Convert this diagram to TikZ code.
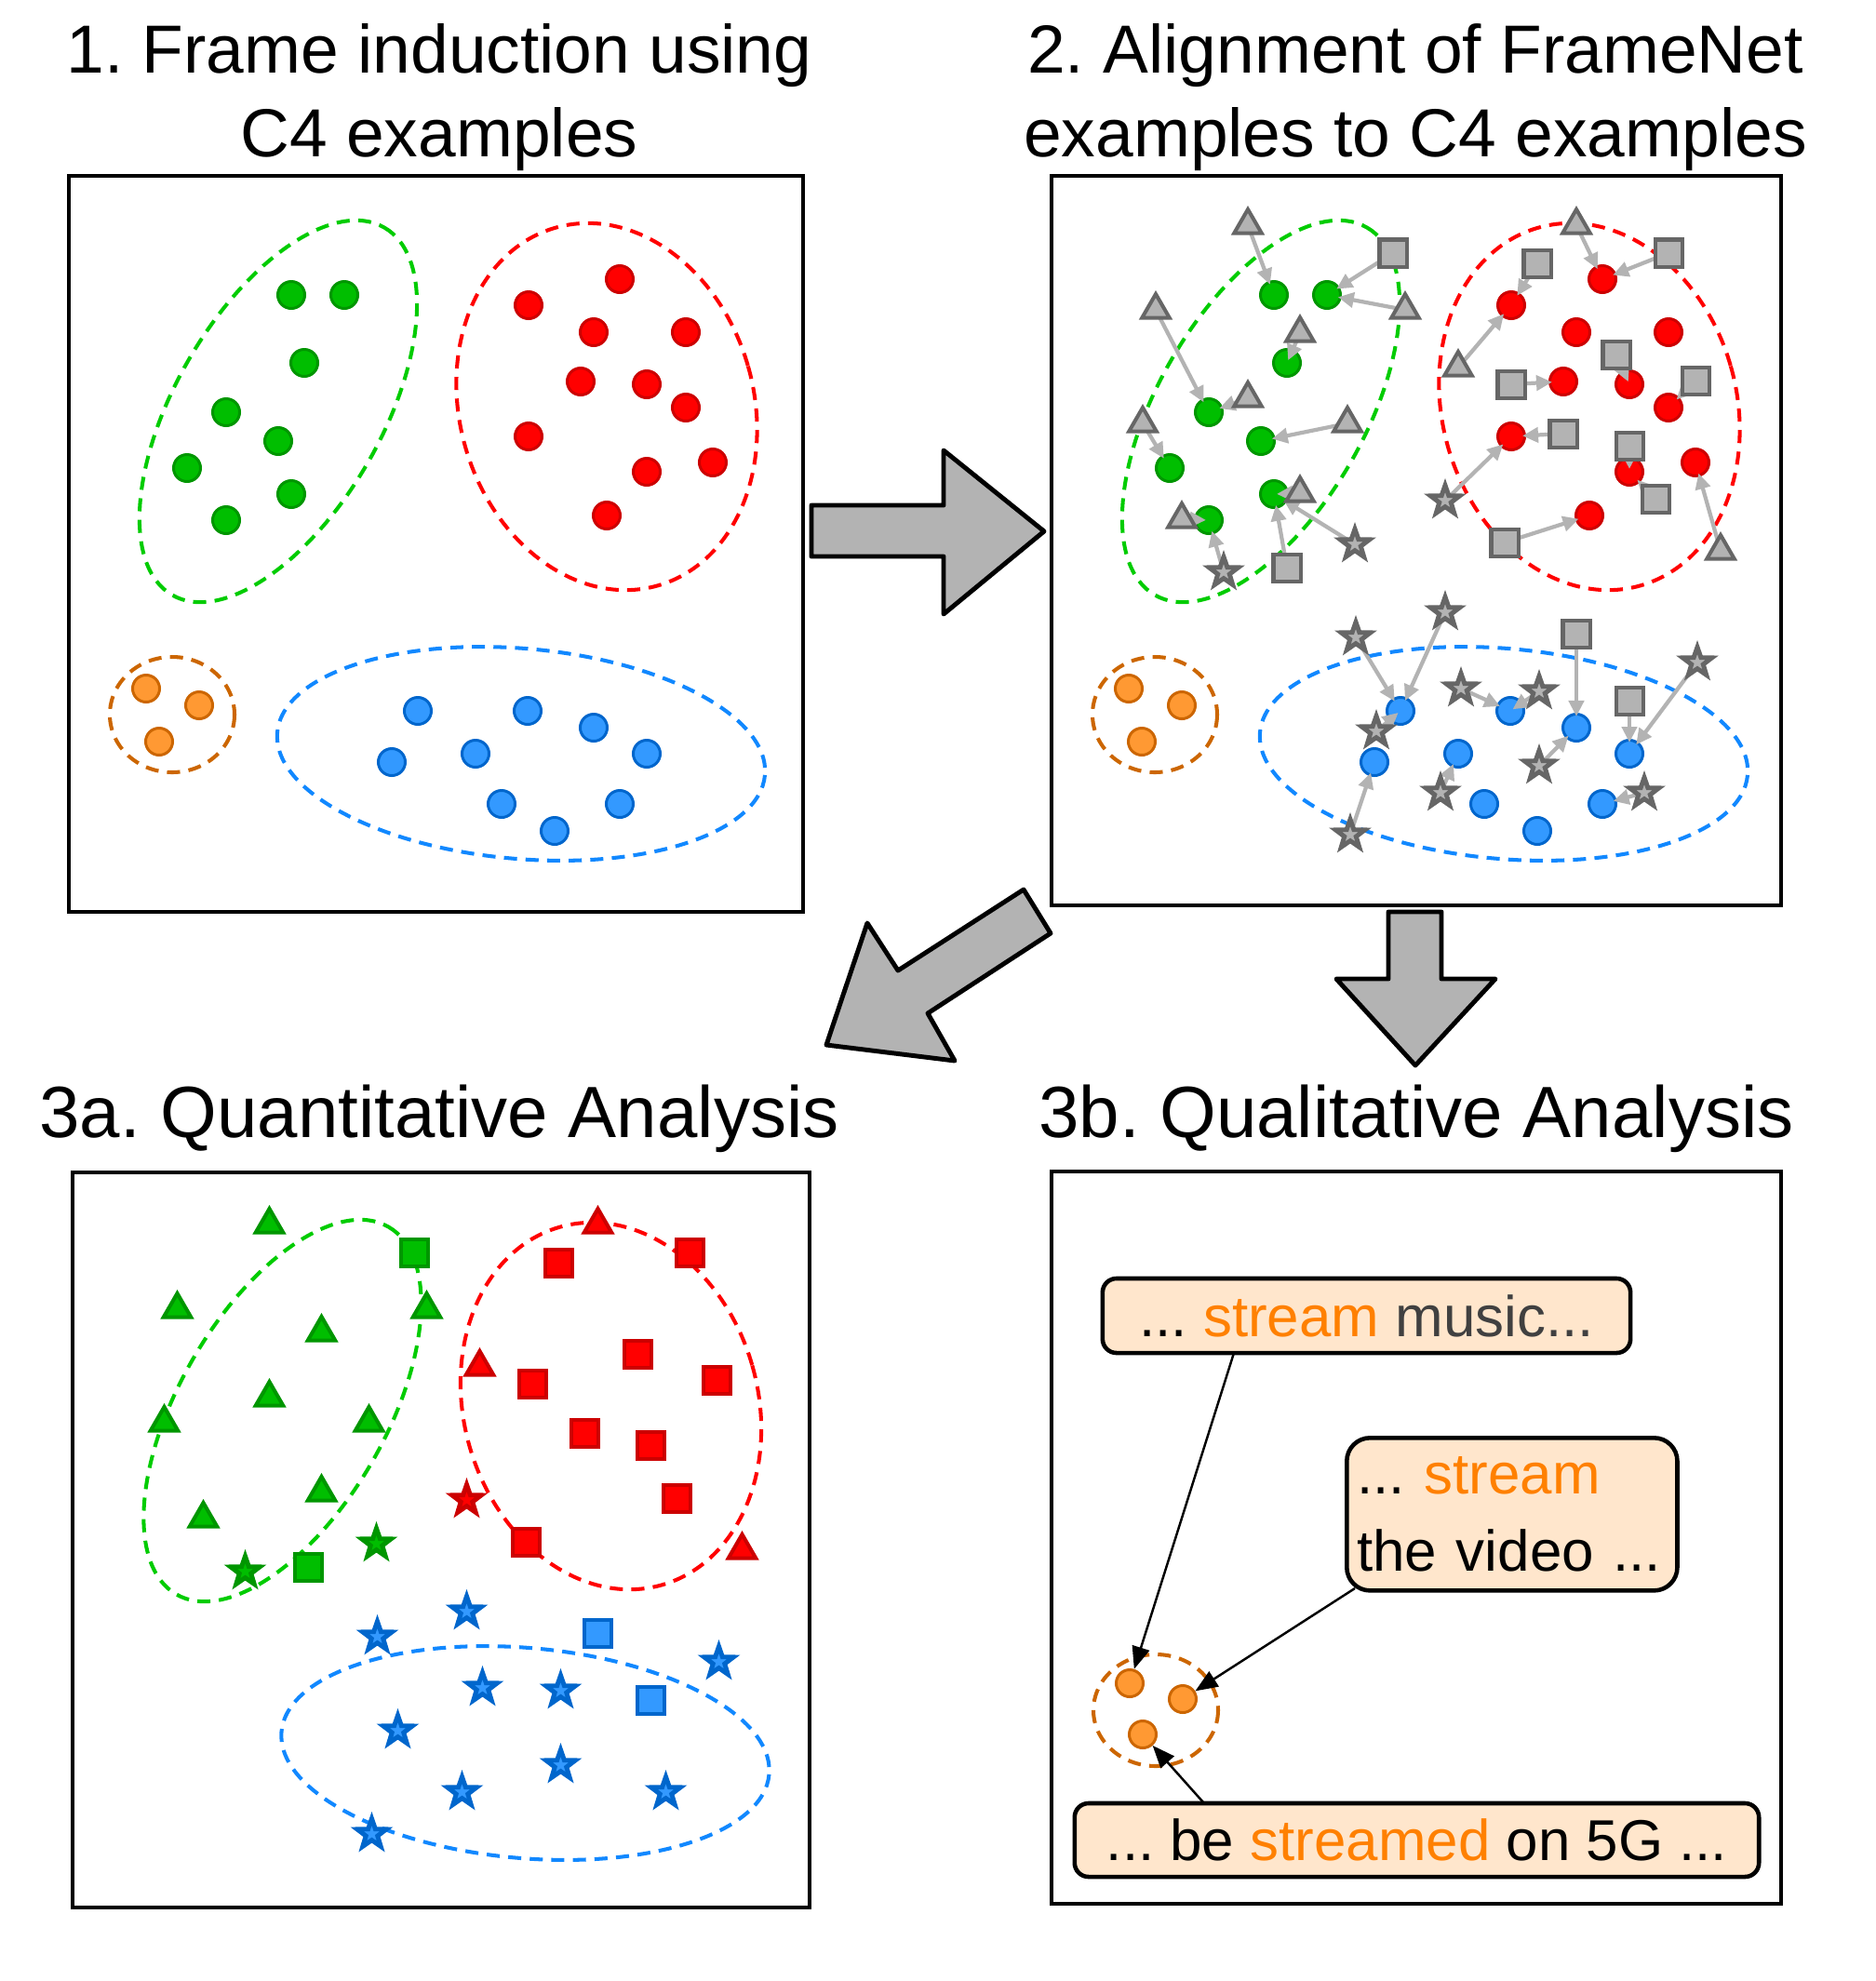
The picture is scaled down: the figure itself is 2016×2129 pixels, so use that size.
\documentclass[tikz,border=0pt]{standalone}
\usepackage{fontspec}
\setmainfont{Liberation Sans}
\usetikzlibrary{shapes.geometric,arrows.meta}
\frenchspacing
\definecolor{gfill}{RGB}{0,190,0}
\definecolor{gline}{RGB}{0,150,0}
\definecolor{gdash}{RGB}{0,204,0}
\definecolor{rfill}{RGB}{255,0,0}
\definecolor{rline}{RGB}{204,0,0}
\definecolor{rdash}{RGB}{255,0,0}
\definecolor{bfill}{RGB}{51,153,255}
\definecolor{bline}{RGB}{0,102,204}
\definecolor{bdash}{RGB}{17,136,255}
\definecolor{ofill}{RGB}{255,153,51}
\definecolor{oline}{RGB}{204,102,0}
\definecolor{mgray}{RGB}{179,179,179}
\definecolor{mline}{RGB}{102,102,102}
\definecolor{peach}{RGB}{255,230,204}
\definecolor{otext}{RGB}{255,128,0}
\definecolor{dtext}{RGB}{64,64,64}
\tikzset{
  ttlone/.style={font=\fontsize{20.8}{25}\selectfont, inner sep=0, anchor=base},
  ttlthree/.style={font=\fontsize{22.2}{27}\selectfont, inner sep=0, anchor=base},
  panelbox/.style={draw=black, line width=1.4pt},
  edash/.style={dash pattern=on 4pt off 2.6pt, line width=1.15pt},
  dotbase/.style={circle, inner sep=0, minimum size=0.29cm, line width=0.85pt},
  gdot/.style={dotbase, fill=gfill, draw=gline},
  rdot/.style={dotbase, fill=rfill, draw=rline},
  bdot/.style={dotbase, fill=bfill, draw=bline},
  odot/.style={dotbase, fill=ofill, draw=oline},
  tribase/.style={regular polygon, regular polygon sides=3, inner sep=0, minimum size=0.34cm, line width=1.14pt},
  sqbase/.style={rectangle, inner sep=0, minimum size=0.29cm, line width=1.14pt},
  starbase/.style={star, star points=5, star point ratio=2.5, inner sep=0, minimum size=0.33cm, line width=1.4pt},
  ph/.style={draw=none, fill=none},
  ytri/.style={tribase, fill=mgray, draw=mline},
  ysq/.style={sqbase, fill=mgray, draw=mline},
  ystar/.style={starbase, fill=mgray, draw=mline},
  gtri/.style={tribase, fill=gfill, draw=gline},
  gsq/.style={sqbase, fill=gfill, draw=gline},
  gstar/.style={starbase, fill=gfill, draw=gline},
  rtri/.style={tribase, fill=rfill, draw=rline},
  rsq/.style={sqbase, fill=rfill, draw=rline},
  rstar/.style={starbase, fill=rfill, draw=rline},
  bsq/.style={sqbase, fill=bfill, draw=bline},
  bstar/.style={starbase, fill=bfill, draw=bline},
  garrow/.style={draw=mgray, line width=1.2pt, -{Triangle[length=0.17cm,width=0.16cm]}, shorten >=0.12cm},
  gshort/.style={garrow, shorten >=0.03cm},
  bigarrow/.style={fill=mgray, draw=black, line width=1.4pt, line join=round},
  tbox/.style={draw=black, fill=peach, line width=1.3pt, rounded corners=0.15cm, inner sep=0, font=\fontsize{17.6}{23.5}\selectfont},
  barrow/.style={draw=black, line width=0.7pt, -{Triangle[length=0.24cm,width=0.19cm]}}
}
\newcommand\drawclusterellipses{%
  \draw[edash, draw=gdash, rotate around={60:(299,442)}] (299,442) ellipse [x radius=228, y radius=111];
  \draw[edash, draw=rdash, rotate around={16:(652,437)}] (652,437) ellipse [x radius=158, y radius=200];
  \draw[edash, draw=bdash, rotate around={-5:(560,810)}] (560,810) ellipse [x radius=263, y radius=113];
}
\newcommand\drawdots[1]{%
  \draw[edash, draw=oline] (185,768) ellipse [x radius=67, y radius=62];
  \node[gdot] (#1g1) at (313,317) {};
  \node[gdot] (#1g2) at (370,317) {};
  \node[gdot] (#1g3) at (327,390) {};
  \node[gdot] (#1g4) at (243,443) {};
  \node[gdot] (#1g5) at (299,474) {};
  \node[gdot] (#1g6) at (201,503) {};
  \node[gdot] (#1g7) at (313,531) {};
  \node[gdot] (#1g8) at (243,559) {};
  \node[rdot] (#1r1) at (666,300) {};
  \node[rdot] (#1r2) at (568,328) {};
  \node[rdot] (#1r3) at (638,357) {};
  \node[rdot] (#1r4) at (737,357) {};
  \node[rdot] (#1r5) at (624,410) {};
  \node[rdot] (#1r6) at (695,413) {};
  \node[rdot] (#1r7) at (737,438) {};
  \node[rdot] (#1r8) at (568,469) {};
  \node[rdot] (#1r9) at (766,497) {};
  \node[rdot] (#1r10) at (695,507) {};
  \node[rdot] (#1r11) at (652,554) {};
  \node[bdot] (#1b1) at (449,764) {};
  \node[bdot] (#1b2) at (567,764) {};
  \node[bdot] (#1b3) at (638,782) {};
  \node[bdot] (#1b4) at (421,819) {};
  \node[bdot] (#1b5) at (511,810) {};
  \node[bdot] (#1b6) at (695,810) {};
  \node[bdot] (#1b7) at (539,864) {};
  \node[bdot] (#1b8) at (666,864) {};
  \node[bdot] (#1b9) at (596,893) {};
  \node[odot] (#1o1) at (157,740) {};
  \node[odot] (#1o2) at (214,758) {};
  \node[odot] (#1o3) at (171,797) {};
}
% #1 prefix, #2 green tri, #3 green sq, #4 green star, #5 red tri, #6 red sq, #7 red star, #8 blue sq, #9 blue star
\newcommand\allmarkers[9]{%
  \node[#2] (#1T1) at (1341,242) {};
  \node[#2] (#1T2) at (1510,333) {};
  \node[#2] (#1T3) at (1242,333) {};
  \node[#2] (#1T4) at (1397,358) {};
  \node[#2] (#1T5) at (1341,428) {};
  \node[#2] (#1T6) at (1228,455) {};
  \node[#2] (#1T7) at (1448,455) {};
  \node[#2] (#1T8) at (1397,530) {};
  \node[#2] (#1T9) at (1270,558) {};
  \node[#3] (#1S1) at (1497,272) {};
  \node[#3] (#1S2) at (1383,610) {};
  \node[#4] (#1St1) at (1315,615) {};
  \node[#4] (#1St2) at (1456,585) {};
  \node[#5] (#1T10) at (1694,242) {};
  \node[#5] (#1T11) at (1567,395) {};
  \node[#5] (#1T12) at (1849,592) {};
  \node[#6] (#1S3) at (1652,283) {};
  \node[#6] (#1S4) at (1793,272) {};
  \node[#6] (#1S5) at (1737,381) {};
  \node[#6] (#1S6) at (1624,413) {};
  \node[#6] (#1S7) at (1822,409) {};
  \node[#6] (#1S8) at (1680,466) {};
  \node[#6] (#1S9) at (1751,479) {};
  \node[#6] (#1S10) at (1779,536) {};
  \node[#6] (#1S11) at (1617,583) {};
  \node[#7] (#1St3) at (1553,538) {};
  \node[#8] (#1S12) at (1694,681) {};
  \node[#8] (#1S13) at (1751,753) {};
  \node[#9] (#1St4) at (1457,685) {};
  \node[#9] (#1St5) at (1553,658) {};
  \node[#9] (#1St6) at (1570,740) {};
  \node[#9] (#1St7) at (1654,743) {};
  \node[#9] (#1St8) at (1824,712) {};
  \node[#9] (#1St9) at (1479,786) {};
  \node[#9] (#1St10) at (1654,823) {};
  \node[#9] (#1St11) at (1548,852) {};
  \node[#9] (#1St12) at (1767,852) {};
  \node[#9] (#1St13) at (1451,897) {};
}
\begin{document}
\begin{tikzpicture}[x=0.01cm, y=-0.01cm]
\useasboundingbox (0,0) rectangle (2016,2129);
\fill[white] (0,0) rectangle (2016,2129);

% titles
\node[ttlone] (t1a) at (472,78) {1. Frame induction using};
\node[ttlone] (t1b) at (472,168) {C4 examples};
\node[ttlone] (t2a) at (1521,78) {2. Alignment of FrameNet};
\node[ttlone] (t2b) at (1521,168) {examples to C4 examples};
\node[ttlthree] (t3a) at (472,1222) {3a. Quantitative Analysis};
\node[ttlthree] (t3b) at (1522,1222) {3b. Qualitative Analysis};

% panel boxes
\draw[panelbox] (74,189) rectangle (863,980);
\draw[panelbox] (1130,189) rectangle (1914,973);
\draw[panelbox] (78,1260) rectangle (870,2050);
\draw[panelbox] (1130,1259) rectangle (1914,2046);

% panel 1
\drawclusterellipses
\drawdots{a}

% panel 2
\begin{scope}[shift={(1056,0)}]
\drawclusterellipses
\drawdots{b}
\end{scope}
\allmarkers{}{ytri,ph}{ysq,ph}{ystar,ph}{ytri,ph}{ysq,ph}{ystar,ph}{ysq,ph}{ystar,ph}
\draw[garrow] (T1.center) -- (bg1.center);
\draw[garrow] (S1.center) -- (bg2.center);
\draw[garrow] (T2.center) -- (bg2.center);
\draw[garrow] (T3.center) -- (bg4.center);
\draw[gshort] (T4.center) -- (bg3.center);
\draw[garrow] (T5.center) -- (bg4.center);
\draw[garrow] (T6.center) -- (bg6.center);
\draw[garrow] (T7.center) -- (bg5.center);
\draw[gshort] (T8.center) -- (bg7.center);
\draw[garrow] (St2.center) -- (bg7.center);
\draw[garrow] (S2.center) -- (bg7.center);
\draw[gshort] (T9.center) -- (bg8.center);
\draw[garrow] (St1.center) -- (bg8.center);
\draw[garrow] (T10.center) -- (br1.center);
\draw[garrow] (S4.center) -- (br1.center);
\draw[garrow] (S3.center) -- (br2.center);
\draw[garrow] (T11.center) -- (br2.center);
\draw[garrow] (S6.center) -- (br5.center);
\draw[gshort] (S5.center) -- (br6.center);
\draw[garrow] (S7.center) -- (br7.center);
\draw[garrow] (S8.center) -- (br8.center);
\draw[garrow] (St3.center) -- (br8.center);
\draw[gshort] (S9.center) -- (br10.center);
\draw[garrow] (S10.center) -- (br10.center);
\draw[garrow] (T12.center) -- (br9.center);
\draw[garrow] (S11.center) -- (br11.center);
\draw[garrow] (St4.center) -- (bb1.center);
\draw[garrow] (St5.center) -- (bb1.center);
\draw[gshort] (St9.center) -- (bb1.center);
\draw[garrow] (St13.center) -- (bb4.center);
\draw[garrow] (St6.center) -- (bb2.center);
\draw[gshort] (St7.center) -- (bb2.center);
\draw[garrow] (S12.center) -- (bb3.center);
\draw[garrow] (St10.center) -- (bb3.center);
\draw[garrow] (S13.center) -- (bb6.center);
\draw[garrow] (St8.center) -- (bb6.center);
\draw[garrow] (St11.center) -- (bb5.center);
\draw[garrow] (St12.center) -- (bb8.center);
\allmarkers{}{ytri}{ysq}{ystar}{ytri}{ysq}{ystar}{ysq}{ystar}

% panel 3a
\begin{scope}[shift={(4.5,1074)}]
\drawclusterellipses
\end{scope}
\begin{scope}[shift={(-1051.5,1074)}]
\allmarkers{q}{gtri}{gsq}{gstar}{rtri}{rsq}{rstar}{bsq}{bstar}
\end{scope}

% panel 3b
\draw[edash, draw=oline] (1242,1838) ellipse [x radius=67, y radius=60];
\node[odot] (od1) at (1214,1809) {};
\node[odot] (od2) at (1271,1826) {};
\node[odot] (od3) at (1228,1864) {};
\node[tbox, minimum width=5.67cm, minimum height=0.8cm] (boxA) at (1468.5,1414)
  {... \textcolor{otext}{stream} \textcolor{dtext}{music...}};
\node[tbox, rounded corners=0.25cm, anchor=north west, text width=3.33cm, inner xsep=0.11cm,
  minimum height=1.64cm, align=left] (boxB) at (1445,1543)
  {... \textcolor{otext}{stream}\\the video ...};
\node[tbox, minimum width=7.35cm, minimum height=0.79cm] (boxC) at (1522.5,1977.5)
  {... be \textcolor{otext}{streamed} on 5G ...};
\coordinate (aA) at (1326,1454);
\coordinate (aB) at (1456,1707);
\coordinate (aC) at (1294,1938);
\draw[barrow] (aA) -- (od1);
\draw[barrow] (aB) -- (od2);
\draw[barrow] (aC) -- (od3);

% block arrows
\draw[bigarrow] (872,543) -- (1014,543) -- (1014,484) -- (1122,571) -- (1014,660) -- (1014,598) -- (872,598) -- cycle;
\draw[bigarrow] (888,1123) -- (932,992) -- (965,1043) -- (1100,956) -- (1129,1003) -- (997,1089) -- (1026,1140) -- cycle;
\draw[bigarrow] (1492,980) -- (1549,980) -- (1549,1052) -- (1607,1052) -- (1521,1145) -- (1436,1052) -- (1492,1052) -- cycle;
\end{tikzpicture}
\end{document}
